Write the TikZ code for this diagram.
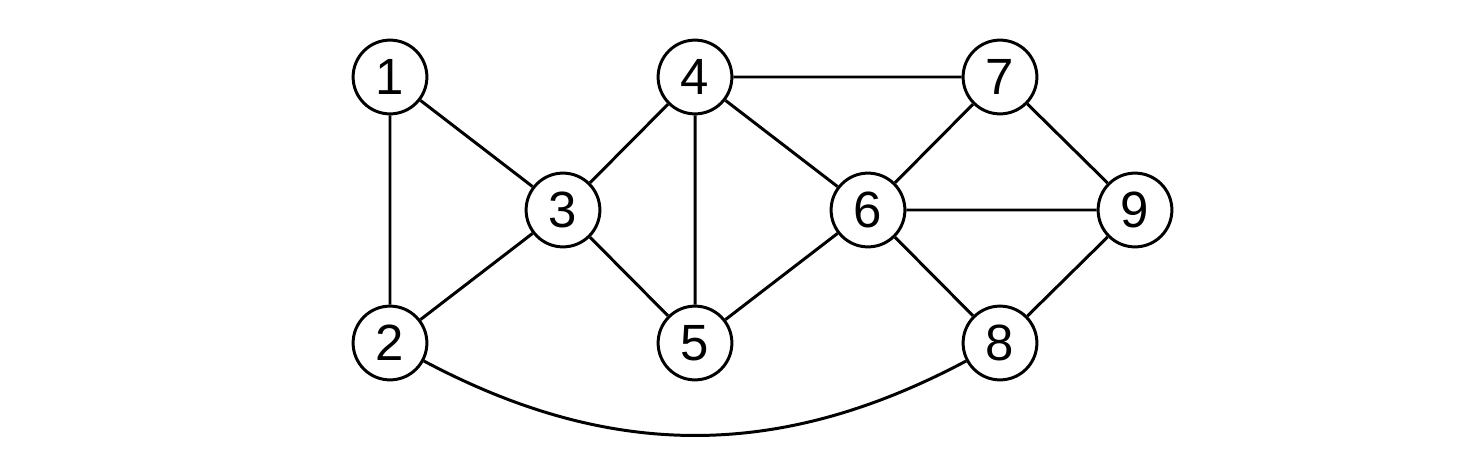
\documentclass[tikz,border=0pt]{standalone}
\usepackage{fontspec}
\setmainfont{Liberation Sans}
\begin{document}
\begin{tikzpicture}[x=0.02cm,y=-0.02cm,
  vert/.style={circle,draw,line width=1.7pt,minimum size=42pt,inner sep=0pt,font=\fontsize{29}{29}\selectfont},
  edge/.style={line width=1.7pt}]
\useasboundingbox (0,0) rectangle (1461,470);
\node[vert] (1) at (390,77) {1};
\node[vert] (2) at (390,343) {2};
\node[vert] (3) at (563,210) {3};
\node[vert] (4) at (695,77) {4};
\node[vert] (5) at (695,343) {5};
\node[vert] (6) at (868,210) {6};
\node[vert] (7) at (1000,77) {7};
\node[vert] (8) at (1000,343) {8};
\node[vert] (9) at (1135,210) {9};
\draw[edge] (1)--(2) (1)--(3) (2)--(3) (3)--(4) (3)--(5) (4)--(5) (4)--(6) (4)--(7)
 (5)--(6) (6)--(7) (6)--(9) (6)--(8) (7)--(9) (8)--(9);
\draw[edge] (2) to[bend right=28] (8);
\end{tikzpicture}
\end{document}
